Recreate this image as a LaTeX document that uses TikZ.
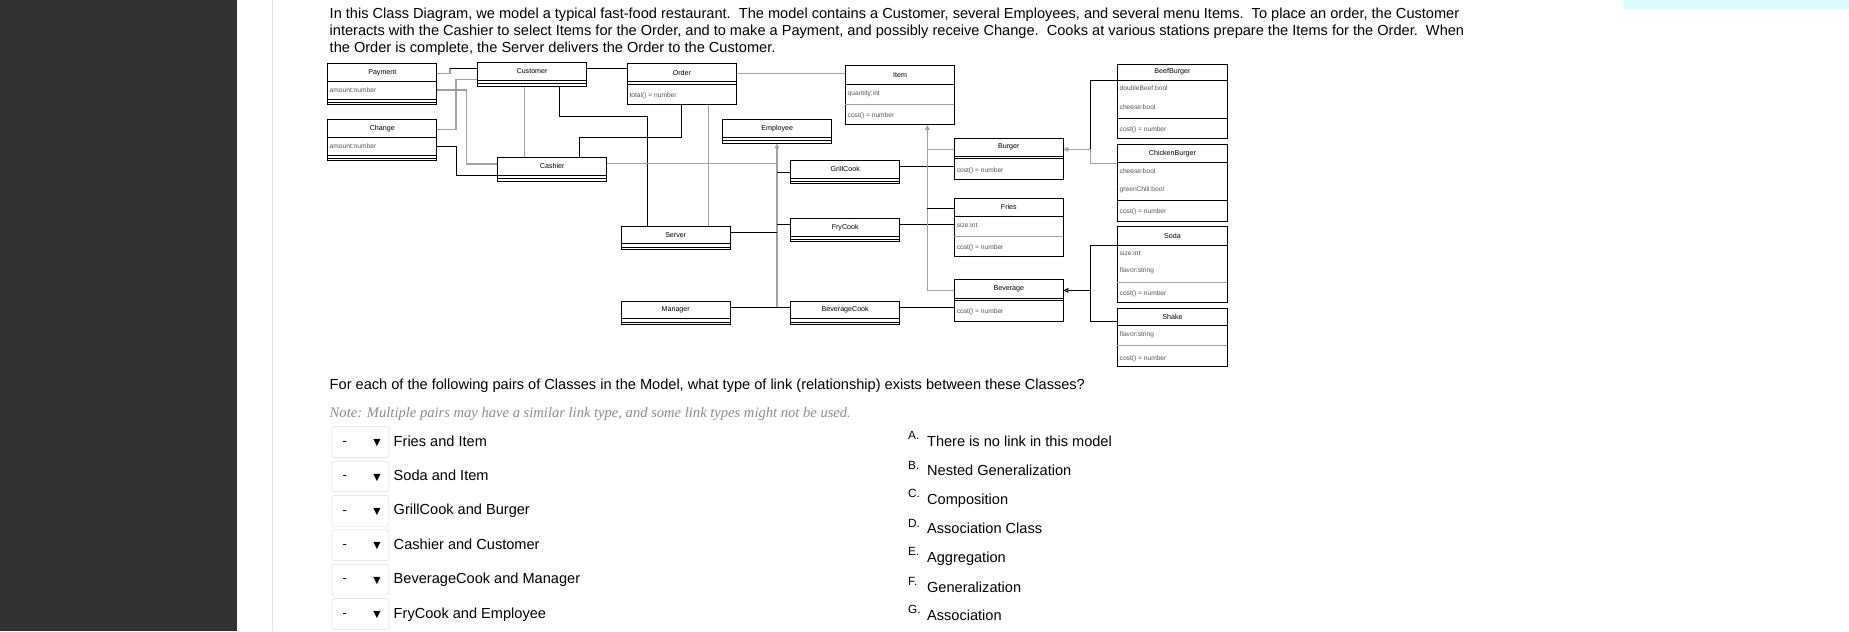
\documentclass[tikz,border=0pt]{standalone}
\usepackage{fontspec}
\setmainfont{Liberation Sans}
\newfontfamily\dejavu{DejaVu Sans}
\newfontfamily\noteserif{Liberation Serif}
\usetikzlibrary{calc,arrows.meta}
\definecolor{lg}{HTML}{A0A0A0}
\definecolor{attr}{HTML}{555555}
\tikzset{
  box/.style={draw=black, line width=0.7pt, inner sep=0pt, anchor=north west},
  ttl/.style={font=\fontsize{6}{7}\selectfont, inner sep=0pt},
  att/.style={font=\fontsize{5.6}{7}\selectfont, text=attr, inner sep=0pt, anchor=west},
  bl/.style={draw=black, line width=0.8pt},
  gl/.style={draw=lg, line width=1pt},
  gen/.style={-{Triangle[open,length=4pt,width=4pt]}},
  para/.style={font=\fontsize{12.3}{14}\selectfont, inner sep=0pt, anchor=base west},
}
\newcommand\cls[7]{% name x y w h title headerheight
  \node[box, minimum width=#4pt, minimum height=#5pt] (#1) at (#2,#3) {};
  \node[ttl] at ($(#1.north)+(0,#7/2)$) {#6};
  \draw[line width=0.6pt] (#2,#3+#7) -- ++(#4,0);}
\newcommand\sep[3]{\draw[line width=0.6pt] (#1,#3) -- ++(#2,0);}
\newcommand\gsep[3]{\draw[lg,line width=0.6pt] (#1,#3) -- ++(#2,0);}
\newcommand\dbl[3]{\draw[line width=0.6pt] (#1,#3-4.5) -- ++(#2,0); \draw[line width=0.6pt] (#1,#3-2) -- ++(#2,0);}
\begin{document}
\begin{tikzpicture}[x=1pt,y=-1pt]
\useasboundingbox (0,0) rectangle (1560,532.4);
\fill[white] (0,0) rectangle (1560,532.4);
\fill[black!80] (0,0) rectangle (200,532.4);
\draw[black!12] (229.5,0) -- (229.5,532.4);
\fill[blue!8!cyan!15] (1370,0) rectangle (1560,8);
% paragraph
\node[para] (p1) at (278,15.5) {In this Class Diagram, we model a typical fast-food restaurant.\ \ The model contains a Customer, several Employees, and several menu Items.\ \ To place an order, the Customer};
\node[para] (p2) at (278,30) {interacts with the Cashier to select Items for the Order, and to make a Payment, and possibly receive Change.\ \ Cooks at various stations prepare the Items for the Order.\ \ When};
\node[para] (p3) at (278,44.5) {the Order is complete, the Server delivers the Order to the Customer.};
% classes
\cls{pay}{276.2}{53.4}{92}{34.6}{Payment}{15.2}\dbl{276.2}{92}{88}
\node[att] at (278,76) {amount:number};
\cls{chg}{276.2}{100.7}{92}{34.6}{Change}{15.2}\dbl{276.2}{92}{135.3}
\node[att] at (278,123) {amount:number};
\cls{cus}{402.4}{52.6}{92.3}{19.7}{Customer}{15}\sep{402.4}{92.3}{70.3}
\cls{ord}{528.7}{53.4}{92.5}{34.6}{Order}{15.6}\sep{528.7}{92.5}{71}
\node[att] at (531,81) {total() = number};
\cls{itm}{713.2}{54.8}{91.8}{50.1}{Item}{16.3}\gsep{713.2}{91.8}{88}
\node[att] at (715,79.5) {quantity:int};
\node[att] at (715,97.5) {cost() = number};
\cls{emp}{609.4}{100.7}{92}{19.7}{Employee}{15}\sep{609.4}{92}{118.4}
\cls{csh}{419.6}{132.7}{91.9}{20}{Cashier}{15}\sep{419.6}{91.9}{150.7}
\cls{grl}{666.8}{135.3}{91.9}{19.4}{GrillCook}{15}\sep{666.8}{91.9}{152.7}
\cls{fry}{666.8}{184.2}{91.9}{19.4}{FryCook}{15}\sep{666.8}{91.9}{201.6}
\cls{srv}{523.6}{190.7}{92.3}{19.6}{Server}{15}\sep{523.6}{92.3}{208.3}
\cls{mgr}{523.6}{253.9}{92.3}{19.7}{Manager}{15}\sep{523.6}{92.3}{271.6}
\cls{bvc}{666.8}{253.9}{91.9}{19.7}{BeverageCook}{15}\sep{666.8}{91.9}{271.6}
\cls{bur}{805}{116.7}{91.6}{34.6}{Burger}{14.9}\sep{805}{91.6}{133.6}
\node[att] at (807,144) {cost() = number};
\cls{fri}{805}{167.3}{91.6}{48.9}{Fries}{15.2}\gsep{805}{91.6}{199.7}
\node[att] at (807,190) {size:int};
\node[att] at (807,209) {cost() = number};
\cls{bev}{805}{235.6}{91.6}{34.9}{Beverage}{15.8}\sep{805}{91.6}{253.6}
\node[att] at (807,263) {cost() = number};
\cls{bb}{942.7}{54}{92.3}{62.4}{BeefBurger}{13.5}\sep{942.7}{92.3}{99.5}
\node[att] at (944.5,74.5) {doubleBeef:bool};
\node[att] at (944.5,90) {cheese:bool};
\node[att] at (944.5,109.7) {cost() = number};
\cls{cb}{942.7}{121.5}{92.3}{64.7}{ChickenBurger}{15.5}\sep{942.7}{92.3}{168.7}
\node[att] at (944.5,144.8) {cheese:bool};
\node[att] at (944.5,159.7) {greenChili:bool};
\node[att] at (944.5,179.1) {cost() = number};
\cls{sod}{942.7}{191}{92.3}{64}{Soda}{15.7}\gsep{942.7}{92.3}{238.2}
\node[att] at (944.5,213.2) {size:int};
\node[att] at (944.5,228.3) {flavor:string};
\node[att] at (944.5,248) {cost() = number};
\cls{shk}{942.7}{259.6}{92.3}{48.9}{Shake}{15.1}\gsep{942.7}{92.3}{291.6}
\node[att] at (944.5,282.6) {flavor:string};
\node[att] at (944.5,302.3) {cost() = number};
% connectors
\draw[gl] (pay.east |- 0,62.1) -- (379.7,62.1) -- (379.7,57.6);
\draw[bl] (379.7,57.6) -- (cus.west |- 0,57.6);
\draw[bl] (cus.east |- 0,57.6) -- (ord.west |- 0,57.6);
\draw[gl] (ord.east |- 0,62.1) -- (itm.west |- 0,62.1);
\draw[gl] (chg.east |- 0,109) -- (384.7,109) -- (384.7,66.9) -- (cus.west |- 0,66.9);
\draw[gl] (pay.east |- 0,76) -- (393.7,76) -- (393.7,138.4) -- (csh.west |- 0,138.4);
\draw[bl] (chg.east |- 0,123.2) -- (385.3,123.2) -- (385.3,148) -- (csh.west |- 0,148);
\draw[gl] (cus.south -| 442.7,0) -- (csh.north -| 442.7,0);
\draw[bl] (cus.south -| 472,0) -- (472,98.4) -- (546.1,98.4) -- (srv.north -| 546.1,0);
\draw[bl] (ord.south -| 574.8,0) -- (574.8,115.9) -- (488.8,115.9) -- (csh.north -| 488.8,0);
\draw[gl] (ord.south -| 597.9,0) -- (srv.north -| 597.9,0);
\draw[gl] (csh.east |- 0,137.8) -- (655.5,137.8);
\coordinate (et) at (655.5,259.3);
\draw[gl,gen] (et) -- (emp.south -| et);
\draw[bl] (grl.west |- 0,145.4) -- (655.5,145.4);
\draw[bl] (fry.west |- 0,189.5) -- (655.5,189.5);
\draw[bl] (srv.east |- 0,196) -- (655.5,196);
\draw[bl] (mgr.east |- 0,259.3) -- (bvc.west |- 0,259.3);
\draw[bl] (grl.east |- 0,140.6) -- (bur.west |- 0,140.6);
\draw[bl] (fry.east |- 0,189) -- (fri.west |- 0,189);
\draw[bl] (bvc.east |- 0,259.3) -- (bev.west |- 0,259.3);
\coordinate (it) at (782.4,245);
\draw[gl,gen] (bev.west |- it) -- (it) -- (itm.south -| it);
\draw[gl] (bur.west |- 0,126) -- (782.4,126);
\draw[bl] (fri.west |- 0,175.7) -- (782.4,175.7);
\draw[bl] (bb.west |- 0,68.3) -- (920.2,68.3) -- (920.2,126);
\draw[gl] (920.2,126) -- (920.2,137.8) -- (cb.west |- 0,137.8);
\draw[gl,gen] (920.2,126) -- (bur.east |- 0,126);
\draw[bl] (sod.west |- 0,207.2) -- (920.2,207.2) -- (920.2,271.4) -- (shk.west |- 0,271.4);
\draw[bl,gen] (920.2,245) -- (bev.east |- 0,245);
% question
\node[para] (q) at (278,329) {For each of the following pairs of Classes in the Model, what type of link (relationship) exists between these Classes?};
\node[para, font=\noteserif\itshape\fontsize{12.3}{14}\selectfont, text=black!45] (nt) at (278,352) {Note: Multiple pairs may have a similar link type, and some link types might not be used.};
\foreach \yc/\lab [count=\i] in {373/Fries and Item,402/Soda and Item,431/GrillCook and Burger,460/Cashier and Customer,489/BeverageCook and Manager,518/FryCook and Employee}{
  \node[draw=black!15, rounded corners=2pt, minimum width=48pt, minimum height=26pt, inner sep=0pt] (dd\i) at (304,\yc) {};
  \node[inner sep=0pt, font=\fontsize{11}{12}\selectfont] at (291,\yc+1) {-};
  \node[inner sep=0pt, font=\dejavu\fontsize{8}{9}\selectfont] at (318,\yc+1) {▼};
  \node[para] at (332,\yc+3.5) {\lab};
}
\foreach \yc/\L/\txt [count=\i] in {373/A/There is no link in this model,398/B/Nested Generalization,422/C/Composition,447/D/Association Class,471/E/Aggregation,496/F/Generalization,520/G/Association}{
  \node[inner sep=0pt, anchor=base west, font=\fontsize{10}{11}\selectfont] (o\i) at (766,\yc-2) {\L.};
  \node[para] at (782,\yc+3.5) {\txt};
}
\end{tikzpicture}
\end{document}
